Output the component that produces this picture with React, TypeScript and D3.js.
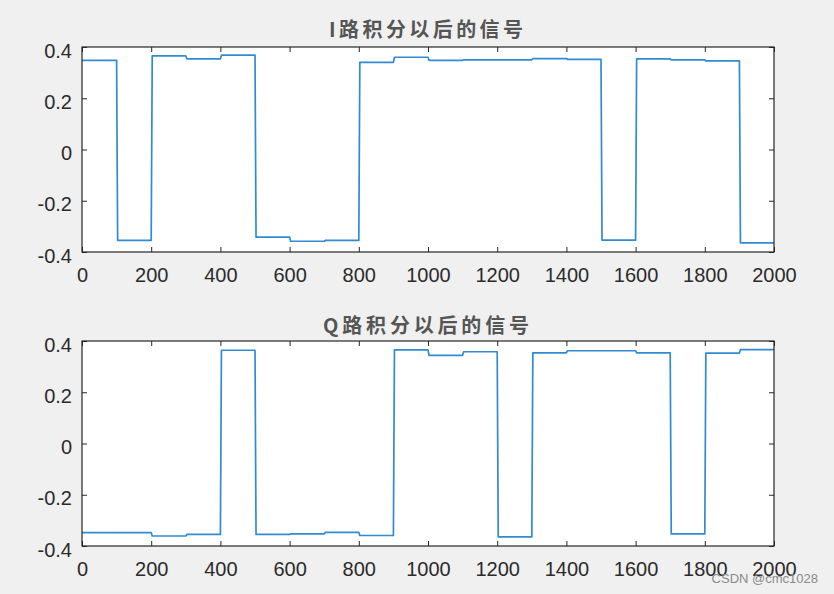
import { useEffect, useRef } from 'react';
import * as d3 from 'd3';

// each value holds for one 100-sample symbol period
const segmentLength = 100;
const iValues = [
  0.348, -0.355, 0.365, 0.354, 0.368, -0.342, -0.358, -0.355, 0.34, 0.36,
  0.348, 0.35, 0.35, 0.355, 0.352, -0.354, 0.354, 0.35, 0.346, -0.364,
];
const qValues = [
  -0.348, -0.348, -0.361, -0.355, 0.364, -0.355, -0.353, -0.347, -0.359, 0.365,
  0.344, 0.358, -0.364, 0.354, 0.362, 0.362, 0.354, -0.353, 0.353, 0.366,
];
const xTicks = [0, 200, 400, 600, 800, 1000, 1200, 1400, 1600, 1800, 2000];
const yTicks = [-0.4, -0.2, 0, 0.2, 0.4];
const yTickLabels = ['-0.4', '-0.2', '0', '0.2', '0.4'];
const titles = ['I路积分以后的信号', 'Q路积分以后的信号'];

const W = 834;
const H = 594;

function toPoints(values: number[]): [number, number][] {
  const pts: [number, number][] = [];
  values.forEach((v, k) => {
    const start = k * segmentLength;
    pts.push([k === 0 ? start : start + 3, v]);
    pts.push([start + segmentLength, v]);
  });
  return pts;
}

export default function App() {
  const svgRef = useRef<SVGSVGElement>(null);

  useEffect(() => {
    const svg = d3.select(svgRef.current);
    svg.selectAll('*').remove();

    svg.append('rect').attr('width', W).attr('height', H).attr('fill', '#f0f0f0');

    const panels = [
      { top: 47, bottom: 252, titleY: 37, values: iValues, title: titles[0], titleLen: 194 },
      { top: 341, bottom: 546, titleY: 333, values: qValues, title: titles[1], titleLen: 206 },
    ];
    const left = 82;
    const right = 774;

    const x = d3.scaleLinear().domain([0, 2000]).range([left, right]);
    const fmtY = (d: d3.NumberValue) => yTickLabels[yTicks.indexOf(+d)] ?? '';

    panels.forEach(p => {
      const y = d3.scaleLinear().domain([-0.4, 0.4]).range([p.bottom, p.top]);

      svg.append('rect')
        .attr('x', left).attr('y', p.top)
        .attr('width', right - left).attr('height', p.bottom - p.top)
        .attr('fill', '#fff');

      const line = d3.line<[number, number]>()
        .x(d => x(d[0]))
        .y(d => y(d[1]));

      svg.append('path')
        .datum(toPoints(p.values))
        .attr('fill', 'none')
        .attr('stroke', '#2f8bd4')
        .attr('stroke-width', 1.7)
        .attr('stroke-linejoin', 'round')
        .attr('d', line);

      const styleAxis = (g: d3.Selection<SVGGElement, unknown, null, undefined>) => {
        g.select('.domain').remove();
        g.selectAll('.tick line').attr('stroke', '#262626');
        g.selectAll('text')
          .style('font-family', 'Arial, "Liberation Sans", sans-serif')
          .style('font-size', '20px')
          .attr('fill', '#2b2b2b');
      };

      svg.append('g')
        .attr('transform', `translate(0,${p.bottom})`)
        .call(d3.axisBottom(x).tickValues(xTicks).tickFormat(d3.format('d')).tickSizeInner(-5).tickSizeOuter(0).tickPadding(16))
        .call(styleAxis);

      svg.append('g')
        .attr('transform', `translate(0,${p.top})`)
        .call(d3.axisTop(x).tickValues(xTicks).tickFormat(() => '').tickSizeInner(-5).tickSizeOuter(0))
        .call(styleAxis);

      const yAxis = svg.append('g')
        .attr('transform', `translate(${left},0)`)
        .call(d3.axisLeft(y).tickValues(yTicks).tickFormat(fmtY).tickSizeInner(-5).tickSizeOuter(0).tickPadding(10))
        .call(styleAxis);
      yAxis.selectAll('text').attr('dy', '0.5em');

      svg.append('g')
        .attr('transform', `translate(${right},0)`)
        .call(d3.axisRight(y).tickValues(yTicks).tickFormat(() => '').tickSizeInner(-5).tickSizeOuter(0))
        .call(styleAxis);

      svg.append('rect')
        .attr('x', left).attr('y', p.top)
        .attr('width', right - left).attr('height', p.bottom - p.top)
        .attr('fill', 'none')
        .attr('stroke', '#262626')
        .attr('stroke-width', 1.2);

      svg.append('text')
        .attr('x', (left + right) / 2 - 2)
        .attr('y', p.titleY)
        .attr('text-anchor', 'middle')
        .attr('textLength', p.titleLen)
        .attr('lengthAdjust', 'spacing')
        .style('font-family', '"Noto Sans CJK SC", sans-serif')
        .style('font-size', '20px')
        .style('font-weight', 'bold')
        .attr('fill', '#555')
        .text(p.title);
    });

    svg.append('text')
      .attr('x', 818)
      .attr('y', 583)
      .attr('text-anchor', 'end')
      .style('font-family', 'Arial, "Liberation Sans", sans-serif')
      .style('font-size', '13px')
      .attr('fill', '#8a8a8a')
      .text('CSDN @cmc1028');
  }, []);

  return (
    <svg
      ref={svgRef}
      width={W}
      height={H}
      style={{ position: 'absolute', left: 0, top: 0, display: 'block' }}
    />
  );
}
